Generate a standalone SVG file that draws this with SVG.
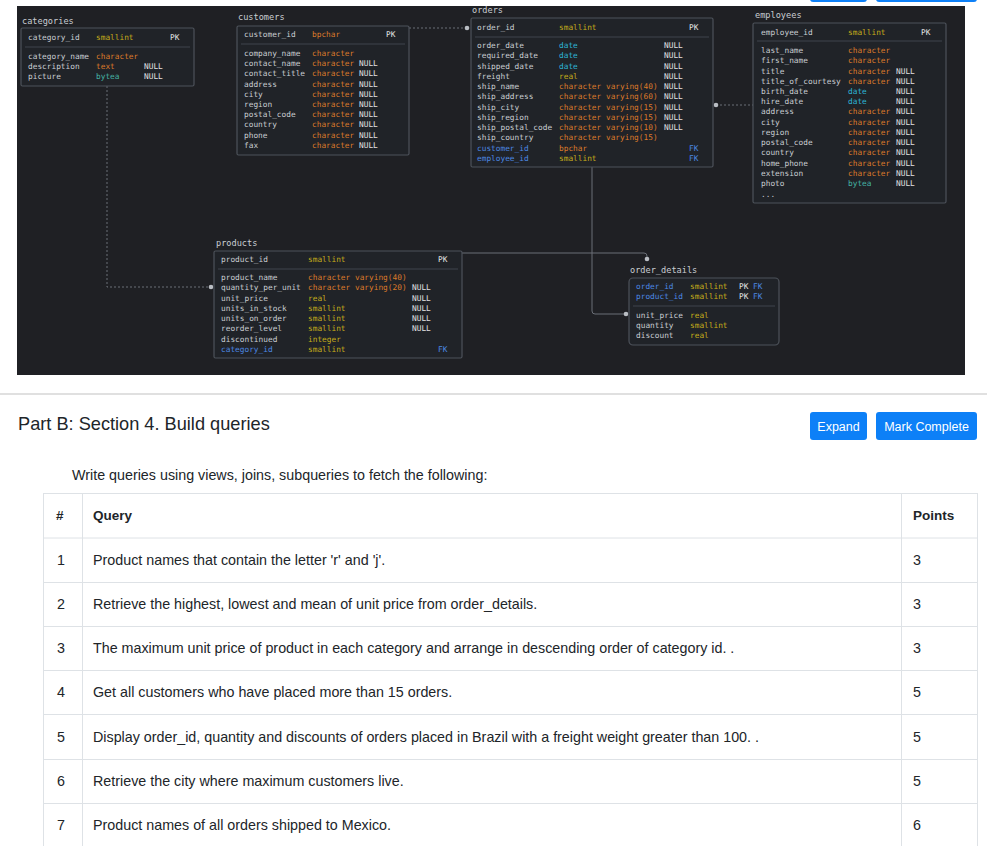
<svg xmlns="http://www.w3.org/2000/svg" width="987" height="846" viewBox="0 0 987 846">
<style>
.m{font-family:"DejaVu Sans Mono","Liberation Mono",monospace;font-size:7.8px;fill:#c9cdd2}
.lbl{font-family:"DejaVu Sans Mono","Liberation Mono",monospace;font-size:8.6px;fill:#c9cdd2}
.k{fill:#e2e2e2}
.y{fill:#c5ad1a}
.o{fill:#dc7a2a}
.c{fill:#2db4d6}
.t{fill:#45b2a4}
.b{fill:#4c88e2}
.box{fill:#202328;stroke:#4d525a;stroke-width:1.2}
.div{stroke:#3f444c;stroke-width:1}
.cn{fill:none;stroke:#6a6f77;stroke-width:1}
.dot{stroke-dasharray:2 2}
.pt{fill:#b9bdc3}
.s{font-family:"Liberation Sans",Arial,sans-serif;font-size:14.3px;fill:#212529}
.bold{font-weight:bold;font-size:13.5px}
.grid{stroke:#dee2e6;stroke-width:1}
.btn{fill:#0d80f7}
.bt{font-family:"Liberation Sans",Arial,sans-serif;font-size:12.5px;fill:#ffffff;text-anchor:middle}
</style>
<rect x="0" y="0" width="987" height="846" fill="#ffffff"/>
<rect x="810" y="-6" width="57" height="8" rx="3" class="btn"/>
<rect x="876" y="-6" width="101" height="8" rx="3" class="btn"/>
<rect x="17" y="6" width="948" height="369" fill="#1f2024"/>

<g id="connectors">
<path class="cn dot" d="M409,28 H467"/>
<circle cx="467" cy="28" r="2.3" class="pt"/>
<path class="cn dot" d="M716,105 H753"/>
<circle cx="716" cy="105" r="2.3" class="pt"/>
<path class="cn dot" d="M107,86 V287 H211"/>
<circle cx="211" cy="287" r="2.3" class="pt"/>
<path class="cn" d="M462,253 H644 Q647,253 647,256 V259"/>
<circle cx="647" cy="259" r="2.3" class="pt"/>
<path class="cn" d="M592,167 V311 Q592,314 595,314 H626"/>
<circle cx="626" cy="314" r="2.3" class="pt"/>
</g>

<g id="categories">
<text x="22" y="24" class="lbl">categories</text>
<rect x="21" y="28" width="173" height="58" rx="1.5" class="box"/>
<line x1="25" y1="47" x2="190" y2="47" class="div"/>
<text x="28" y="40" class="m">category_id</text><text x="96" y="40" class="m y">smallint</text><text x="170" y="40" class="m k">PK</text>
<text x="28" y="59" class="m">category_name</text><text x="96" y="59" class="m o">character</text>
<text x="28" y="69" class="m">description</text><text x="96" y="69" class="m o">text</text><text x="144" y="69" class="m k">NULL</text>
<text x="28" y="79" class="m">picture</text><text x="96" y="79" class="m t">bytea</text><text x="144" y="79" class="m k">NULL</text>
</g>

<g id="customers">
<text x="238" y="20" class="lbl">customers</text>
<rect x="237" y="26" width="172" height="129" rx="1.5" class="box"/>
<line x1="241" y1="44" x2="405" y2="44" class="div"/>
<text x="244" y="37" class="m">customer_id</text><text x="312" y="37" class="m o">bpchar</text><text x="386" y="37" class="m k">PK</text>
<text x="244" y="56" class="m">company_name</text><text x="312" y="56" class="m o">character</text>
<text x="244" y="66.2" class="m">contact_name</text><text x="312" y="66.2" class="m o">character</text><text x="359" y="66.2" class="m k">NULL</text>
<text x="244" y="76.4" class="m">contact_title</text><text x="312" y="76.4" class="m o">character</text><text x="359" y="76.4" class="m k">NULL</text>
<text x="244" y="86.6" class="m">address</text><text x="312" y="86.6" class="m o">character</text><text x="359" y="86.6" class="m k">NULL</text>
<text x="244" y="96.8" class="m">city</text><text x="312" y="96.8" class="m o">character</text><text x="359" y="96.8" class="m k">NULL</text>
<text x="244" y="107" class="m">region</text><text x="312" y="107" class="m o">character</text><text x="359" y="107" class="m k">NULL</text>
<text x="244" y="117.2" class="m">postal_code</text><text x="312" y="117.2" class="m o">character</text><text x="359" y="117.2" class="m k">NULL</text>
<text x="244" y="127.4" class="m">country</text><text x="312" y="127.4" class="m o">character</text><text x="359" y="127.4" class="m k">NULL</text>
<text x="244" y="137.6" class="m">phone</text><text x="312" y="137.6" class="m o">character</text><text x="359" y="137.6" class="m k">NULL</text>
<text x="244" y="147.8" class="m">fax</text><text x="312" y="147.8" class="m o">character</text><text x="359" y="147.8" class="m k">NULL</text>
</g>

<g id="orders">
<text x="472" y="13" class="lbl">orders</text>
<rect x="471" y="18" width="242" height="149" rx="1.5" class="box"/>
<line x1="475" y1="37" x2="709" y2="37" class="div"/>
<text x="477" y="30" class="m">order_id</text><text x="559" y="30" class="m y">smallint</text><text x="689" y="30" class="m k">PK</text>
<text x="477" y="48" class="m">order_date</text><text x="559" y="48" class="m c">date</text><text x="664" y="48" class="m k">NULL</text>
<text x="477" y="58.3" class="m">required_date</text><text x="559" y="58.3" class="m c">date</text><text x="664" y="58.3" class="m k">NULL</text>
<text x="477" y="68.5" class="m">shipped_date</text><text x="559" y="68.5" class="m c">date</text><text x="664" y="68.5" class="m k">NULL</text>
<text x="477" y="78.8" class="m">freight</text><text x="559" y="78.8" class="m y">real</text><text x="664" y="78.8" class="m k">NULL</text>
<text x="477" y="89.1" class="m">ship_name</text><text x="559" y="89.1" class="m o">character varying(40)</text><text x="664" y="89.1" class="m k">NULL</text>
<text x="477" y="99.4" class="m">ship_address</text><text x="559" y="99.4" class="m o">character varying(60)</text><text x="664" y="99.4" class="m k">NULL</text>
<text x="477" y="109.6" class="m">ship_city</text><text x="559" y="109.6" class="m o">character varying(15)</text><text x="664" y="109.6" class="m k">NULL</text>
<text x="477" y="119.9" class="m">ship_region</text><text x="559" y="119.9" class="m o">character varying(15)</text><text x="664" y="119.9" class="m k">NULL</text>
<text x="477" y="130.2" class="m">ship_postal_code</text><text x="559" y="130.2" class="m o">character varying(10)</text><text x="664" y="130.2" class="m k">NULL</text>
<text x="477" y="140.4" class="m">ship_country</text><text x="559" y="140.4" class="m o">character varying(15)</text>
<text x="477" y="150.7" class="m b">customer_id</text><text x="559" y="150.7" class="m o">bpchar</text><text x="689" y="150.7" class="m b">FK</text>
<text x="477" y="161" class="m b">employee_id</text><text x="559" y="161" class="m y">smallint</text><text x="689" y="161" class="m b">FK</text>
</g>

<g id="employees">
<text x="755" y="18" class="lbl">employees</text>
<rect x="753" y="23" width="193" height="180" rx="1.5" class="box"/>
<line x1="757" y1="41" x2="942" y2="41" class="div"/>
<text x="761" y="35" class="m">employee_id</text><text x="848" y="35" class="m y">smallint</text><text x="921" y="35" class="m k">PK</text>
<text x="761" y="53" class="m">last_name</text><text x="848" y="53" class="m o">character</text>
<text x="761" y="63.2" class="m">first_name</text><text x="848" y="63.2" class="m o">character</text>
<text x="761" y="73.5" class="m">title</text><text x="848" y="73.5" class="m o">character</text><text x="896" y="73.5" class="m k">NULL</text>
<text x="761" y="83.7" class="m">title_of_courtesy</text><text x="848" y="83.7" class="m o">character</text><text x="896" y="83.7" class="m k">NULL</text>
<text x="761" y="93.9" class="m">birth_date</text><text x="848" y="93.9" class="m c">date</text><text x="896" y="93.9" class="m k">NULL</text>
<text x="761" y="104.2" class="m">hire_date</text><text x="848" y="104.2" class="m c">date</text><text x="896" y="104.2" class="m k">NULL</text>
<text x="761" y="114.4" class="m">address</text><text x="848" y="114.4" class="m o">character</text><text x="896" y="114.4" class="m k">NULL</text>
<text x="761" y="124.6" class="m">city</text><text x="848" y="124.6" class="m o">character</text><text x="896" y="124.6" class="m k">NULL</text>
<text x="761" y="134.8" class="m">region</text><text x="848" y="134.8" class="m o">character</text><text x="896" y="134.8" class="m k">NULL</text>
<text x="761" y="145.1" class="m">postal_code</text><text x="848" y="145.1" class="m o">character</text><text x="896" y="145.1" class="m k">NULL</text>
<text x="761" y="155.3" class="m">country</text><text x="848" y="155.3" class="m o">character</text><text x="896" y="155.3" class="m k">NULL</text>
<text x="761" y="165.5" class="m">home_phone</text><text x="848" y="165.5" class="m o">character</text><text x="896" y="165.5" class="m k">NULL</text>
<text x="761" y="175.8" class="m">extension</text><text x="848" y="175.8" class="m o">character</text><text x="896" y="175.8" class="m k">NULL</text>
<text x="761" y="186" class="m">photo</text><text x="848" y="186" class="m t">bytea</text><text x="896" y="186" class="m k">NULL</text>
<text x="761" y="197" class="m">...</text>
</g>

<g id="products">
<text x="216" y="246" class="lbl">products</text>
<rect x="214" y="251" width="248" height="107" rx="1.5" class="box"/>
<line x1="218" y1="269" x2="458" y2="269" class="div"/>
<text x="221" y="262" class="m">product_id</text><text x="308" y="262" class="m y">smallint</text><text x="438" y="262" class="m k">PK</text>
<text x="221" y="280" class="m">product_name</text><text x="308" y="280" class="m o">character varying(40)</text>
<text x="221" y="290.3" class="m">quantity_per_unit</text><text x="308" y="290.3" class="m o">character varying(20)</text><text x="412" y="290.3" class="m k">NULL</text>
<text x="221" y="300.6" class="m">unit_price</text><text x="308" y="300.6" class="m y">real</text><text x="412" y="300.6" class="m k">NULL</text>
<text x="221" y="310.9" class="m">units_in_stock</text><text x="308" y="310.9" class="m y">smallint</text><text x="412" y="310.9" class="m k">NULL</text>
<text x="221" y="321.2" class="m">units_on_order</text><text x="308" y="321.2" class="m y">smallint</text><text x="412" y="321.2" class="m k">NULL</text>
<text x="221" y="331.4" class="m">reorder_level</text><text x="308" y="331.4" class="m y">smallint</text><text x="412" y="331.4" class="m k">NULL</text>
<text x="221" y="341.7" class="m">discontinued</text><text x="308" y="341.7" class="m y">integer</text>
<text x="221" y="352" class="m b">category_id</text><text x="308" y="352" class="m y">smallint</text><text x="438" y="352" class="m b">FK</text>
</g>

<g id="order_details">
<text x="630" y="273" class="lbl">order_details</text>
<rect x="629" y="278" width="150" height="67" rx="4" class="box"/>
<line x1="633" y1="306" x2="775" y2="306" class="div"/>
<text x="636" y="289" class="m b">order_id</text><text x="690" y="289" class="m y">smallint</text><text x="739" y="289" class="m k">PK</text><text x="753" y="289" class="m b">FK</text>
<text x="636" y="299" class="m b">product_id</text><text x="690" y="299" class="m y">smallint</text><text x="739" y="299" class="m k">PK</text><text x="753" y="299" class="m b">FK</text>
<text x="636" y="318" class="m">unit_price</text><text x="690" y="318" class="m y">real</text>
<text x="636" y="328" class="m">quantity</text><text x="690" y="328" class="m y">smallint</text>
<text x="636" y="338" class="m">discount</text><text x="690" y="338" class="m y">real</text>
</g>

<g id="section">
<rect x="0" y="393" width="987" height="2" fill="#e0e0e0"/>
<text x="18" y="430" font-family="Liberation Sans, Arial, sans-serif" font-size="18.2" fill="#212529">Part B: Section 4. Build queries</text>
<rect x="810" y="412" width="57" height="28" rx="3" class="btn"/>
<text x="838.5" y="430.5" class="bt">Expand</text>
<rect x="876" y="412" width="101" height="28" rx="3" class="btn"/>
<text x="926.5" y="430.5" class="bt">Mark Complete</text>
<text x="72" y="480" class="s">Write queries using views, joins, subqueries to fetch the following:</text>
</g>

<g id="table">
<line x1="43" y1="493.5" x2="977" y2="493.5" class="grid"/>
<line x1="43" y1="538" x2="977" y2="538" class="grid" stroke-width="2"/>
<line x1="43" y1="582.5" x2="977" y2="582.5" class="grid"/>
<line x1="43" y1="626.5" x2="977" y2="626.5" class="grid"/>
<line x1="43" y1="670.5" x2="977" y2="670.5" class="grid"/>
<line x1="43" y1="714.5" x2="977" y2="714.5" class="grid"/>
<line x1="43" y1="759.5" x2="977" y2="759.5" class="grid"/>
<line x1="43" y1="803.5" x2="977" y2="803.5" class="grid"/>
<line x1="43.5" y1="493" x2="43.5" y2="846" class="grid"/>
<line x1="82.5" y1="493" x2="82.5" y2="846" class="grid"/>
<line x1="901.5" y1="493" x2="901.5" y2="846" class="grid"/>
<line x1="977.5" y1="493" x2="977.5" y2="846" class="grid"/>
<text x="56" y="520" class="s bold">#</text>
<text x="93" y="520" class="s bold">Query</text>
<text x="913" y="520" class="s bold">Points</text>
<text x="57" y="565" class="s">1</text><text x="93" y="565" class="s">Product names that contain the letter 'r' and 'j'.</text><text x="913" y="565" class="s">3</text>
<text x="57" y="609" class="s">2</text><text x="93" y="609" class="s">Retrieve the highest, lowest and mean of unit price from order_details.</text><text x="913" y="609" class="s">3</text>
<text x="57" y="653" class="s">3</text><text x="93" y="653" class="s">The maximum unit price of product in each category and arrange in descending order of category id. .</text><text x="913" y="653" class="s">3</text>
<text x="57" y="697" class="s">4</text><text x="93" y="697" class="s">Get all customers who have placed more than 15 orders.</text><text x="913" y="697" class="s">5</text>
<text x="57" y="742" class="s">5</text><text x="93" y="742" class="s">Display order_id, quantity and discounts of orders placed in Brazil with a freight weight greater than 100. .</text><text x="913" y="742" class="s">5</text>
<text x="57" y="786" class="s">6</text><text x="93" y="786" class="s">Retrieve the city where maximum customers live.</text><text x="913" y="786" class="s">5</text>
<text x="57" y="830" class="s">7</text><text x="93" y="830" class="s">Product names of all orders shipped to Mexico.</text><text x="913" y="830" class="s">6</text>
</g>
</svg>
